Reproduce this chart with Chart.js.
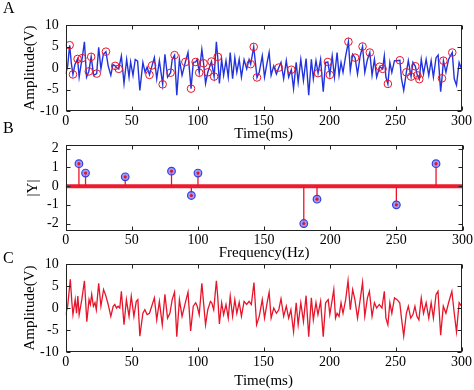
<!DOCTYPE html>
<html><head><meta charset="utf-8">
<script src="https://cdn.jsdelivr.net/npm/chart.js@4/dist/chart.umd.min.js"></script>
<style>
html,body{margin:0;padding:0;background:#fff;}
#wrap{position:relative;width:474px;height:390px;overflow:hidden;}
canvas{position:absolute;left:0;}
.lab{position:absolute;left:3px;font:16px "Liberation Serif",serif;color:#000;line-height:16px;}
</style></head><body>
<div id="wrap">
<canvas id="cA" width="474" height="143" style="top:0px"></canvas>
<canvas id="cB" width="474" height="142" style="top:120px"></canvas>
<canvas id="cC" width="474" height="150" style="top:240px"></canvas>
<div class="lab" style="top:0px">A</div>
<div class="lab" style="top:120px">B</div>
<div class="lab" style="top:250px">C</div>
</div>
<script>
// ---------- tick labels ----------
const X_TICKS = [0, 50, 100, 150, 200, 250, 300];
const AMP_TICKS = [-10, -5, 0, 5, 10];
const Y_B_TICKS = [-2, -1, 0, 1, 2];

// ---------- panel A: measured signal (time ms, amplitude V) ----------
const sigA_t = [0,1.5,3,4.3,5.5,7,9,10.2,11.5,12.5,14.2,15.8,17.5,19.3,21.2,23.5,25,26.7,28.5,30.5,
  32.2,34.2,35.8,37.5,39,40.2,42.2,44.2,46.2,48,49.2,51,52.7,54.5,56.2,58.5,60.2,61.7,63.5,65.5,
  67.2,69,71,73.5,75.2,77.2,79.5,80.7,82.5,84.2,86.2,88.2,90.7,92.7,95,96.7,98.5,
  99.7,101.2,103.2,104.5,106,107.7,110.5,112.5,114.2,115.2,116.5,118.2,119.7,121.5,123.2,124.7,126.5,128.2,129.7,131.5,
  133.2,135.2,137.2,139,140.2,142.5,145,146.7,149,150.7,152.7,154.2,155.7,157.7,159.7,161.5,163.2,165.2,167.2,169,
  171,172.7,174.7,176.2,178.2,180.2,182.2,184.2,186.2,187.7,189.7,191.3,193.2,195.2,197,198.7,200.2,
  202,203.7,205.7,207.2,208.7,210.2,212.2,214.3,215.7,217.5,219.3,221.2,223.2,225,226.7,228.7,230.5,232.2,234,235.7,
  238,240.2,241.5,242.7,244.2,245.7,247.2,249.2,251.2,253.3,254.5,256.2,258.2,259.7,261.8,263.2,265,266.5,268,269.5,
  271.2,273.2,275.2,277,278.7,280.7,282.3,284.2,285.2,286.3,288.2,290.2,293,294.5,296.2,298.2,300];
const sigA_v = [-1.4,0.5,5.3,1.0,-1.5,0.8,2.1,-2.1,0.5,2.3,6.1,-2.1,-0.8,2.6,-1.7,-1.3,4.8,-0.2,3.2,3.8,
  0.5,-1.7,0.8,0.5,0.0,-0.2,2.8,-3.6,2.0,-2.1,1.4,-1.7,2.0,1.6,-5.2,1.3,-1.0,0.2,-1.6,0.6,
  2.4,-2.5,1.7,-3.8,3.2,-2.1,-1.1,2.0,3.0,-6.3,2.0,-1.7,1.4,3.6,-4.8,1.3,1.4,
  2.0,-1.1,4.3,1.1,-3.6,-1.0,1.5,-2.0,6.1,2.6,-3.6,2.0,-1.7,1.7,-2.1,3.6,-2.5,2.4,-1.0,2.0,
  -2.1,1.9,-0.2,2.0,0.9,4.9,-2.2,-1.0,2.8,-2.1,1.3,3.6,-1.7,0.5,-1.4,0.1,1.3,-2.5,1.7,-2.1,
  -0.4,-4.8,1.3,-3.3,2.0,-2.9,2.2,-6.3,2.0,-2.5,1.7,-1.2,2.0,-5.5,1.3,1.4,-1.6,
  2.8,-2.1,3.6,-1.7,1.3,-1.0,2.8,6.1,-0.6,3.2,2.4,-1.4,2.8,5.0,-1.0,2.0,3.6,-1.7,2.0,-2.1,
  0.3,-0.2,2.8,-2.1,-3.7,1.3,-1.0,1.7,1.7,1.8,-2.5,-5.2,-1.0,1.7,-2.0,1.3,0.4,-1.7,-2.6,2.0,
  -1.4,2.0,-1.7,1.7,-2.1,2.4,3.0,-5.5,-2.4,1.7,-1.0,2.0,3.6,-2.5,-4.0,1.3,-0.2];

// marked samples (red circles) in panel A
const markA_t = [3,5.5,9,12.5,17.5,19.3,23.5,30.5,37.5,40.2,63.5,65.5,73.5,79.5,82.5,90.7,95,98.5,101.2,104.5,
  107.7,110.5,112.5,115.2,140.2,142.5,145,161.5,171,191.3,198.7,200.2,214.3,219.3,225,230.5,238,240.2,244.2,253.3,
  258.2,261.8,265,266.5,268,285.2,286.3,293];
const markA_v = [5.3,-1.5,2.1,2.3,-0.8,2.6,-1.3,3.8,0.5,-0.2,-1.6,0.6,-3.8,-1.1,3.0,1.4,-4.8,1.4,-1.1,1.1,
  -1.0,1.5,-2.0,2.6,0.9,4.9,-2.2,0.1,-0.4,-1.2,1.4,-1.6,6.1,2.4,5.0,3.6,0.3,-0.2,-3.7,1.8,
  -1.0,-2.0,0.4,-1.7,-2.6,-2.4,1.7,3.6];

// ---------- panel B: sparse spectrum ----------
const FREQ_RANGE = [0, 300];
const peak_f = [10, 15, 45, 80, 95, 100, 180, 190, 250, 280];
const peak_y = [1.2, 0.7, 0.5, 0.8, -0.5, 0.7, -2.0, -0.7, -1.0, 1.2];

// ---------- panel C: reconstructed signal ----------
const sigC_t = [0,1.5,3.5,4.7,5.5,7.2,8.2,9.2,10.2,12.2,14.2,16,17.7,18.7,19.7,21,22.2,23.2,25,26.7,
  28.7,30.5,32.2,34.2,36,37.2,38.5,39.7,41,42.2,44.2,46,48,49.7,51.7,53.5,54.7,56.2,58.5,60,
  61.7,63.5,65.2,67.2,69,71,73.2,75.2,77.2,79,80.7,82.5,84.2,86.2,88.2,90.7,92.7,94.7,96.7,98.5,
  99.7,101.2,103.2,105.2,106,107.7,109.7,110.7,112.2,114.2,115.2,116.5,118.2,119.7,121.5,123.2,124.7,126.5,128.2,129.7,
  131.5,133.2,135.2,137.2,139,140.7,142.7,144.7,146.7,149,150.7,152.7,154.2,155.7,157.7,159.7,161.5,163.2,165.2,167.2,
  169,170.7,172.7,174.7,176.2,178.2,180.2,182.2,184.2,186.2,187.7,189.7,191.2,193.2,195.2,197,199,200.2,
  202,203.2,204.5,205.7,207.2,208.7,210.2,212.2,214,215.7,217.5,219.2,221.2,223.2,225,226.7,228.7,230.2,232.2,234,
  235.7,237.7,239.7,241.5,242.7,244.2,245.7,247.2,249.2,251.2,253.2,254.5,256.2,258.2,259.7,261.5,263.2,264.7,266.2,267.7,
  269.5,271.2,273.2,275.2,277,278.7,280.7,282.2,284.2,286.2,288.2,290.2,292.7,294.5,296.2,298.2,300];
const sigC_v = [-1.5,0.5,6.5,1.2,-1.5,1.9,-1.2,2.7,-1.5,1.9,6.2,-3.1,1.9,0.8,3.1,0.4,1.2,-0.4,5.6,0.4,
  4.2,2.7,0.8,-1.9,0.4,0.8,0,0.4,0,3.8,-3.8,1.9,-1.9,2.7,-1.9,1.5,1.9,-6.4,-1.2,-0.4,
  -1.5,-1.2,0.4,2.3,-2.7,1.5,-3.8,3.1,-2.3,-1.2,1.9,3.6,-6.5,1.9,-1.9,1.2,3.6,-5.2,0.4,1.2,
  0.4,-1.5,5.6,-1.2,-3.8,-0.4,1.5,1.2,-0.4,6.2,2.7,-3.6,1.2,-1.5,0.8,-2.3,2.7,-1.9,1.9,-1.2,
  1.3,-1.9,1.5,0.8,1.5,0.8,5.8,-3.8,-1.9,1.9,-2.3,1.2,3.6,-2.3,0,-1.2,-0.4,2.1,-1.9,0.4,
  -2.3,-0.4,-5.4,1.2,-3.8,1.2,-3.1,2.8,-6.5,2.3,-2.7,1.2,-1.5,1.5,-6.5,1.2,1.9,-1.5,
  1.9,4.2,-2.3,-1.2,-1.9,1.2,-1.2,1.9,6.2,-0.4,4.2,1.9,-2.3,1.9,5.8,-1.9,2.3,3.8,-1.9,1.2,
  0,0.8,0,3.8,-2.3,-3.8,1.2,-1.2,2.3,1.9,1.2,-2.3,-6.4,-1.2,0.4,-2.3,-1.5,0.4,-1.9,-2.7,
  2.3,-1.2,1.2,-2.3,1.2,-2.3,3.1,3.8,-6.2,0.4,-1.2,1.2,3.8,-1.2,-5.4,1.2,0.4];

// ---------- helpers ----------
const F = '"Liberation Serif", "Times New Roman", serif';
const pts = (ts, vs) => ts.map((t, i) => ({x: t, y: vs[i]}));

const framePlugin = {
  id: 'frame',
  afterDraw(chart) {
    const {ctx, chartArea: {left, right, top, bottom}, scales: {x, y}} = chart;
    ctx.save();
    ctx.strokeStyle = '#222';
    ctx.lineWidth = 1;
    const l = Math.round(left) + 0.5, r = Math.round(right) - 0.5, t = Math.round(top) + 0.5, b = Math.round(bottom) - 0.5;
    ctx.strokeRect(l, t, r - l, b - t);
    const L = 4;
    ctx.beginPath();
    x.ticks.forEach(tk => {
      const px = Math.round(x.getPixelForValue(tk.value)) + 0.5;
      ctx.moveTo(px, b); ctx.lineTo(px, b - L);
      ctx.moveTo(px, t); ctx.lineTo(px, t + L);
    });
    y.ticks.forEach(tk => {
      const py = Math.round(y.getPixelForValue(tk.value)) + 0.5;
      ctx.moveTo(l, py); ctx.lineTo(l + L, py);
      ctx.moveTo(r, py); ctx.lineTo(r - L, py);
    });
    ctx.stroke();
    ctx.restore();
  }
};

function makeChart(id, datasets, g) {
  return new Chart(document.getElementById(id), {
    type: 'scatter',
    data: {datasets},
    plugins: [framePlugin],
    options: {
      responsive: false, animation: false, events: [],
      layout: {padding: {left: 0, right: 9.3, top: g.top, bottom: 0}},
      plugins: {legend: {display: false}, tooltip: {enabled: false}},
      scales: {
        x: {
          type: 'linear', min: 0, max: 300,
          afterBuildTicks: s => { s.ticks = X_TICKS.map(v => ({value: v})); },
          afterFit: s => { s.height = g.h - g.bottom; },
          grid: {display: false, drawTicks: false}, border: {display: false},
          ticks: {padding: g.xPad, font: {family: F, size: 14}, color: '#000', maxRotation: 0, autoSkip: false},
          title: {display: true, text: g.xTitle, font: {family: F, size: 15}, color: '#000', padding: {top: 0, bottom: 0}}
        },
        y: {
          type: 'linear', min: g.yMin, max: g.yMax,
          afterBuildTicks: s => { s.ticks = g.yTicks.map(v => ({value: v})); },
          afterFit: s => { s.width = 65.7; },
          grid: {display: false, drawTicks: false}, border: {display: false},
          ticks: {padding: 7, font: {family: F, size: 14}, color: '#000', autoSkip: false},
          title: {display: true, text: g.yTitle, font: {family: F, size: 15}, color: '#000', padding: {top: g.yTitlePad, bottom: 0}}
        }
      }
    }
  });
}

// ---------- panel A ----------
makeChart('cA', [
  {data: pts(markA_t, markA_v), showLine: false, pointRadius: 3.8, pointBorderColor: '#e8142a',
   pointBackgroundColor: 'rgba(0,0,0,0)', pointBorderWidth: 1, order: 0},
  {data: pts(sigA_t, sigA_v), showLine: true, borderColor: '#2233dd', borderWidth: 1.4,
   pointRadius: 0, tension: 0, order: 1}
], {h: 143, top: 25, bottom: 111, xPad: 2, xTitle: 'Time(ms)', yTitle: 'Amplitude(V)', yMin: -10, yMax: 10,
    yTicks: AMP_TICKS, yTitlePad: 21});

// ---------- panel B ----------
const stemPts = peak_f.flatMap((f, i) => [{x: f, y: 0}, {x: f, y: peak_y[i]}, {x: f, y: null}]);
makeChart('cB', [
  {data: pts(peak_f, peak_y), showLine: false, pointRadius: 1.6, pointBackgroundColor: '#e8142a',
   pointBorderWidth: 0, order: 0},
  {data: pts(peak_f, peak_y), showLine: false, pointRadius: 3.8, pointBorderColor: '#3340e0',
   pointBackgroundColor: 'rgba(140,140,245,0.85)', pointBorderWidth: 1.2, order: 1},
  {data: stemPts, showLine: true, spanGaps: false, borderColor: '#e8142a', borderWidth: 1.3,
   pointRadius: 0, order: 2},
  {data: FREQ_RANGE.map(f => ({x: f, y: 0})), showLine: true, borderColor: '#ee1a2e', borderWidth: 4,
   pointRadius: 0, order: 3}
], {h: 142, top: 25, bottom: 111, xPad: 1, xTitle: 'Frequency(Hz)', yTitle: '|Y|', yMin: -2.4, yMax: 2.2,
    yTicks: Y_B_TICKS, yTitlePad: 24});

// ---------- panel C ----------
makeChart('cC', [
  {data: pts(sigC_t, sigC_v), showLine: true, borderColor: '#e8142a', borderWidth: 1.3,
   pointRadius: 0, tension: 0}
], {h: 150, top: 24, bottom: 112, xPad: 2, xTitle: 'Time(ms)', yTitle: 'Amplitude(V)', yMin: -10, yMax: 10,
    yTicks: AMP_TICKS, yTitlePad: 21});
</script>
</body></html>
